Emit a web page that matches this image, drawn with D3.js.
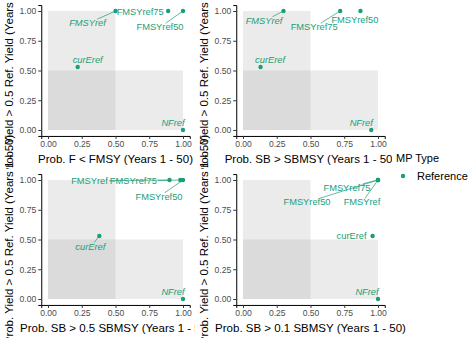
<!DOCTYPE html>
<html>
<head>
<meta charset="utf-8">
<script src="https://cdn.jsdelivr.net/npm/d3@7"></script>
<style>
  body { margin: 0; background: #fff; }
  svg { display: block; font-family: "Liberation Sans", Arial, sans-serif; }
</style>
</head>
<body>
<svg width="474" height="338"></svg>
<script>
// MPs and their probabilities
const mps = ["FMSYref", "FMSYref75", "FMSYref50", "curEref", "NFref"];
const yieldProb = [1.00, 1.00, 1.00, 0.53, 0.00];
const pF = [0.50, 0.89, 1.00, 0.22, 1.00];
const pSB = [0.30, 0.72, 0.87, 0.13, 0.95];
const pSB05 = [0.90, 0.98, 1.00, 0.38, 1.00];
const pSB01 = [1.00, 1.00, 1.00, 0.96, 1.00];

const xTitles = [
    "Prob. F < FMSY (Years 1 - 50)",
    "Prob. SB > SBMSY (Years 1 - 50)",
    "Prob. SB > 0.5 SBMSY (Years 1 - 50)",
    "Prob. SB > 0.1 SBMSY (Years 1 - 50)"
];
const yTitle = "Prob. Yield > 0.5 Ref. Yield (Years 1 - 50)";
const tickVals = [0, 0.25, 0.5, 0.75, 1];
const legendTitle = "MP Type";
const legendItems = ["Reference"];

// label placement, like ggrepel left them (px offset from the point)
const labelShift = [
    [[-28, 12], [-28, 1], [-23, 16], [10, -7], [-10, -7.5]],
    [[-19.5, 9.5], [-26, 16], [-5.5, 8.5], [9.5, -7], [-10, -7.5]],
    [[-80, 0.5], [-47, 1], [-24, 16.5], [-9, 10.5], [-10, -7]],
    [[-16, 22], [-31, 7.5], [-71, 22], [-21, 0], [-11, -7]]
];

const green = "#1B9E77";
const svg = d3.select("svg");

const panels = [pF, pSB, pSB05, pSB01].map((xs, i) => ({
    col: i % 2,
    row: Math.floor(i / 2),
    title: xTitles[i],
    shift: labelShift[i],
    pts: mps.map((m, j) => ({ mp: m, x: xs[j], y: yieldProb[j] }))
}));

panels.forEach(p => {
    const ox = p.col * 195, oy = p.row * 169;
    const g = svg.append("g").attr("transform", `translate(${ox},${oy})`);

    // cell background, covers what spills over from earlier cells
    g.append("rect").attr("width", 195).attr("height", 169).attr("fill", "#fff");

    const x = d3.scaleLinear().domain([-0.05, 1.05]).range([41.25, 189.75]);
    const y = d3.scaleLinear().domain([-0.05, 1.05]).range([135.95, 5.05]);

    // shaded zones
    [[0, 0.5, 0, 1], [0, 1, 0, 0.5]].forEach(r => {
        g.append("rect")
            .attr("x", x(r[0])).attr("width", x(r[1]) - x(r[0]))
            .attr("y", y(r[3])).attr("height", y(r[2]) - y(r[3]))
            .attr("fill", "#999").attr("fill-opacity", 0.2);
    });

    const xAxis = g.append("g").attr("transform", `translate(0,${y(-0.05)})`)
        .call(d3.axisBottom(x).tickValues(tickVals).tickFormat(d3.format(".2f")).tickSize(3).tickPadding(2));
    const yAxis = g.append("g").attr("transform", `translate(${x(-0.05)},0)`)
        .call(d3.axisLeft(y).tickValues(tickVals).tickFormat(d3.format(".2f")).tickSize(3).tickPadding(2));
    [xAxis, yAxis].forEach(a => {
        a.select(".domain").attr("stroke", "#000").attr("stroke-width", 1);
        a.selectAll(".tick line").attr("stroke", "#333");
        a.selectAll(".tick text").attr("fill", "#4D4D4D")
            .style("font-size", "8.6px").style("font-family", "Liberation Sans, Arial, sans-serif");
    });

    // segments first, then points and labels
    const segG = g.append("g");
    g.append("g").selectAll("circle").data(p.pts).join("circle")
        .attr("cx", d => x(d.x)).attr("cy", d => y(d.y)).attr("r", 2.2)
        .attr("fill", green);

    const labels = g.append("g").selectAll("text").data(p.pts).join("text")
        .attr("x", (d, j) => x(d.x) + p.shift[j][0])
        .attr("y", (d, j) => y(d.y) + p.shift[j][1])
        .attr("dy", "0.35em")
        .attr("text-anchor", "middle")
        .attr("fill", green)
        .style("font-size", "9.3px")
        .style("font-style", d => (d.x > 0.5 && d.y > 0.5) ? "normal" : "italic")
        .text(d => d.mp);

    labels.each(function (d) {
        const b = this.getBBox();
        const px = x(d.x), py = y(d.y);
        const cx = b.x + b.width / 2, cy = b.y + b.height / 2;
        const vx = cx - px, vy = cy - py;
        let t = 1;
        const hw = b.width / 2 + 1, hh = b.height / 2 - 1;
        if (Math.abs(vx) > 0) t = Math.min(t, 1 - hw / Math.abs(vx));
        if (Math.abs(vy) > 0) t = Math.max(t, 1 - hh / Math.abs(vy));
        // point to bbox edge along the line to centre
        const tx = Math.max(0, 1 - Math.min(Math.abs(vx) ? hw / Math.abs(vx) : Infinity, Math.abs(vy) ? hh / Math.abs(vy) : Infinity));
        const ex = px + vx * tx, ey = py + vy * tx;
        const len = Math.hypot(ex - px, ey - py);
        if (len > 7) {
            segG.append("line")
                .attr("x1", px).attr("y1", py).attr("x2", ex).attr("y2", ey)
                .attr("stroke", green).attr("stroke-width", 0.7);
        }
    });

    g.append("text")
        .attr("x", (x(-0.05) + x(1.05)) / 2).attr("y", 163)
        .attr("text-anchor", "middle").style("font-size", "11.5px").attr("fill", "#000")
        .text(p.title);

    g.append("text")
        .attr("transform", `translate(9,${(y(-0.05) + y(1.05)) / 2}) rotate(-90)`)
        .attr("dy", "0.35em")
        .attr("text-anchor", "middle").style("font-size", "11.5px").attr("fill", "#000")
        .text(yTitle);
});

// legend
const lg = svg.append("g");
lg.append("rect").attr("x", 392).attr("y", 146).attr("width", 82).attr("height", 46).attr("fill", "#fff");
lg.append("text").attr("x", 396).attr("y", 158).attr("dy", "0.35em")
    .style("font-size", "11px").text(legendTitle);
legendItems.forEach((name, i) => {
    lg.append("circle").attr("cx", 403).attr("cy", 176 + i * 17).attr("r", 2.2).attr("fill", green);
    lg.append("text").attr("x", 417).attr("y", 176 + i * 17).attr("dy", "0.35em")
        .style("font-size", "11px").text(name);
});
</script>
</body>
</html>
